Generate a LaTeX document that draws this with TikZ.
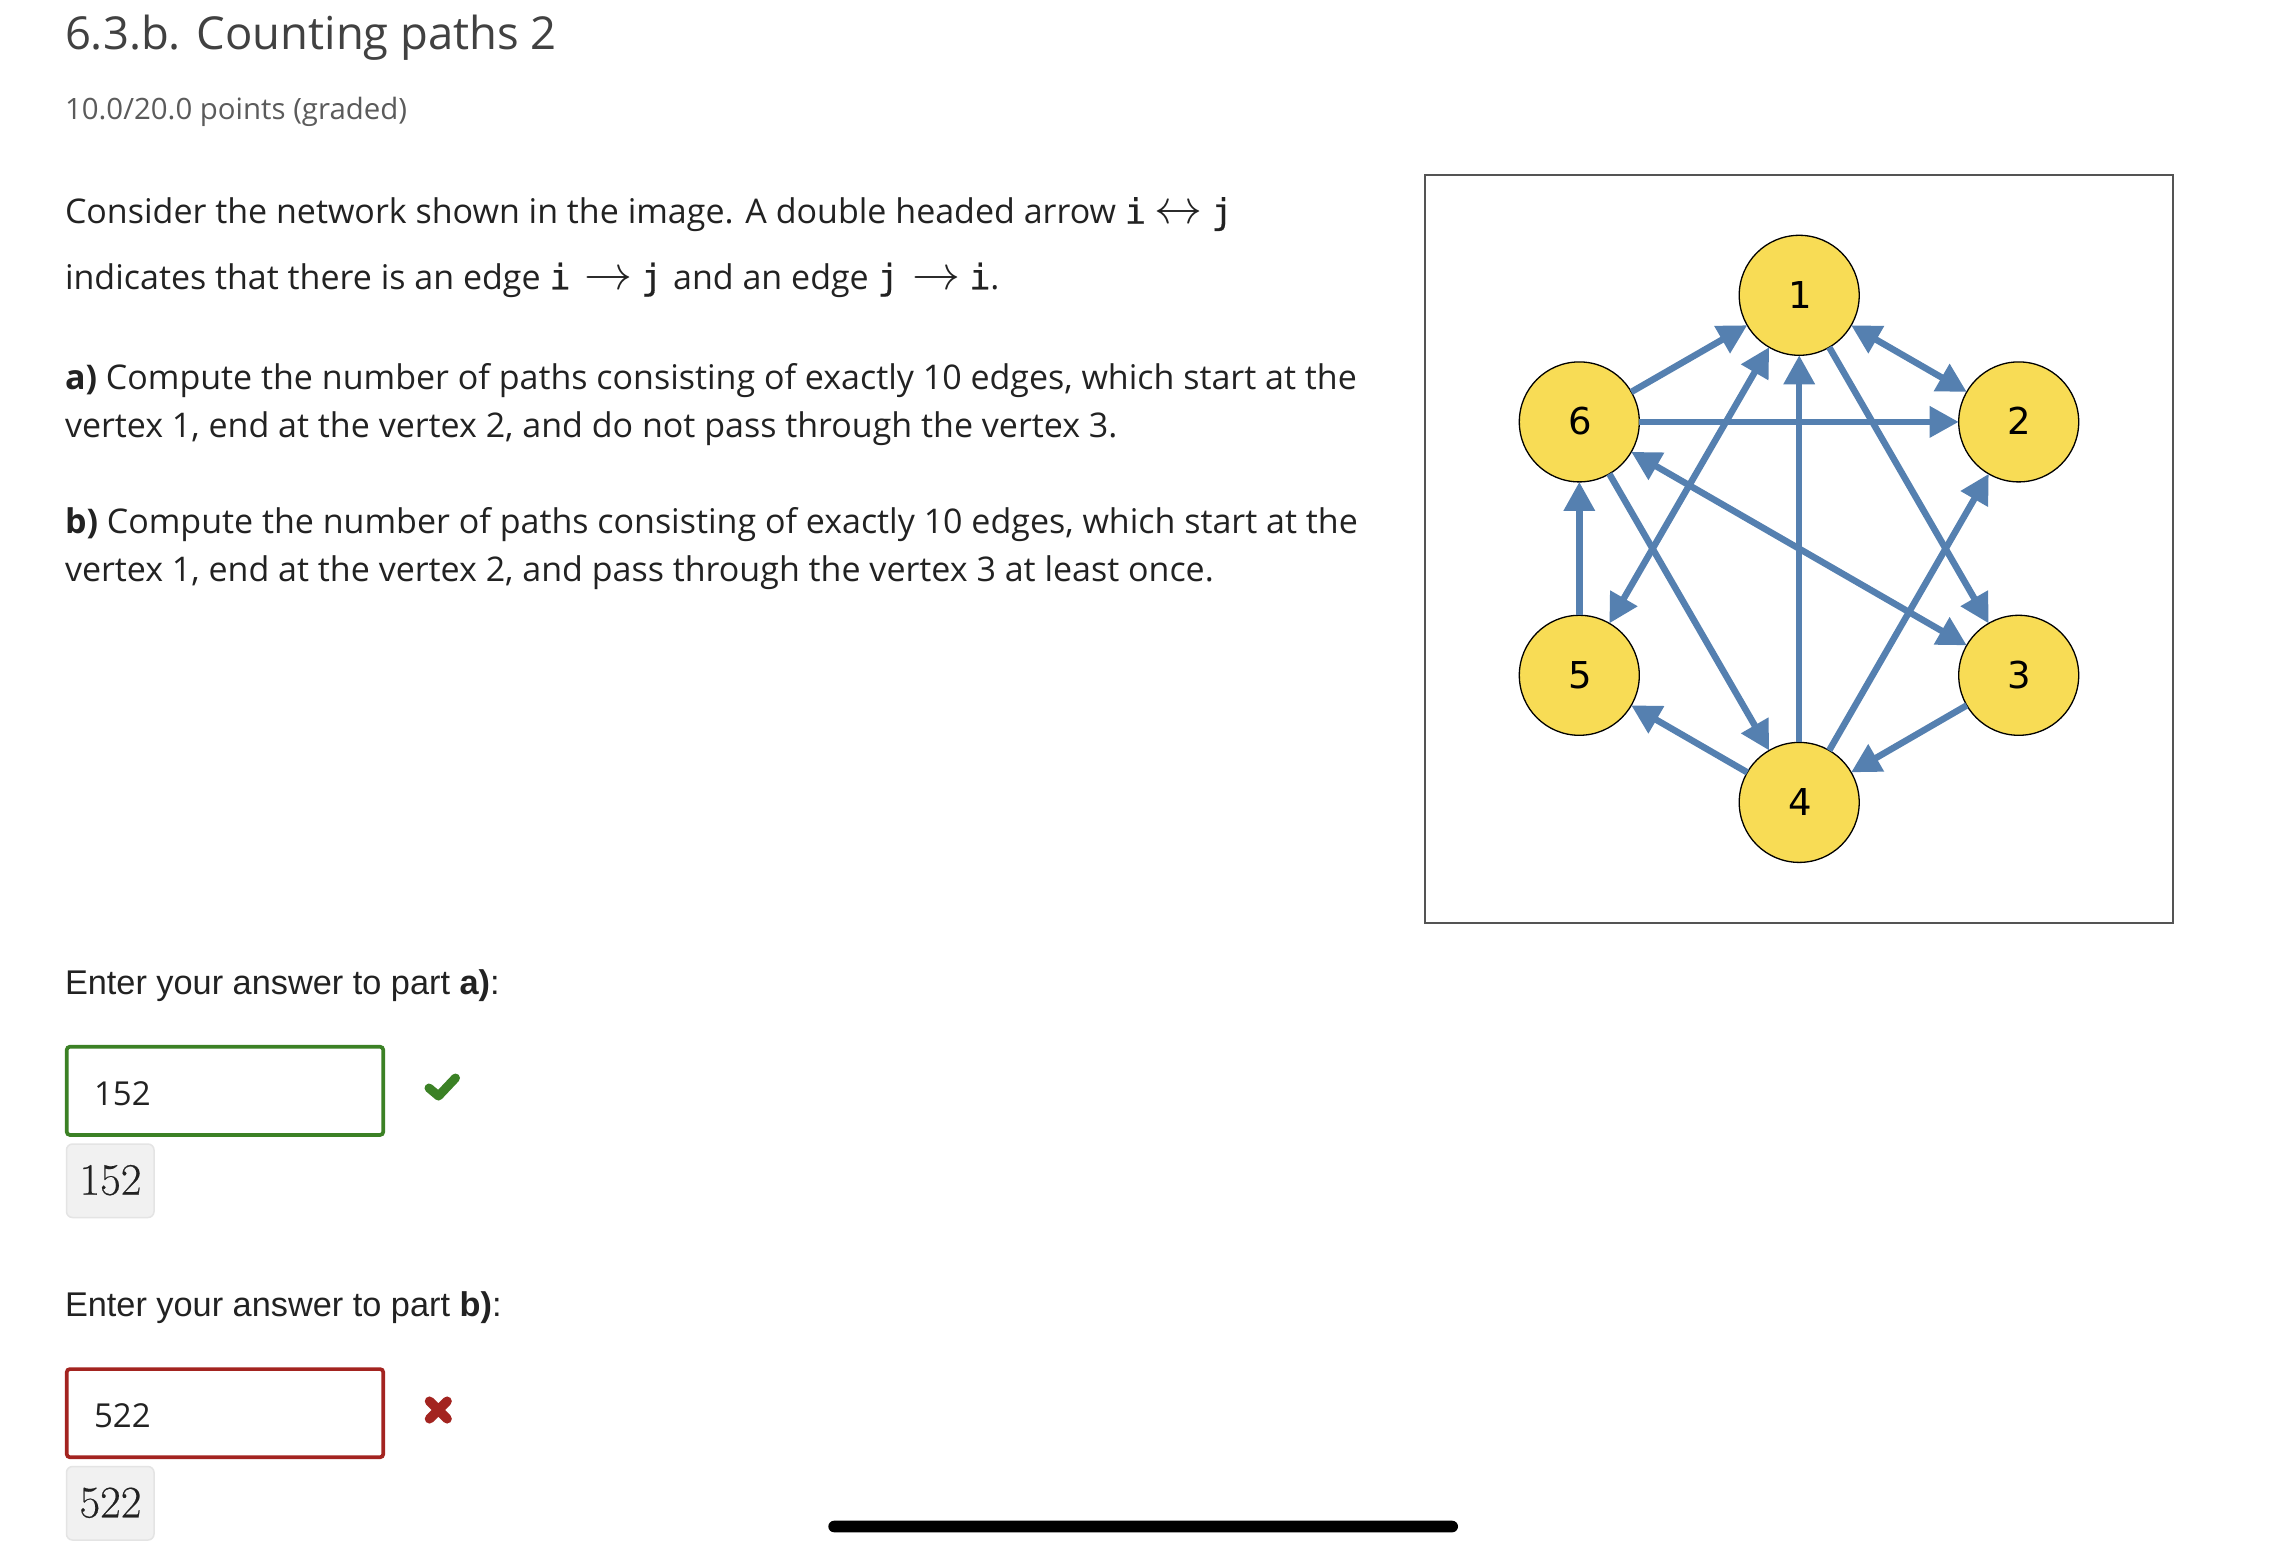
\RequirePackage{fix-cm}
\documentclass[tikz,border=0pt]{standalone}
\usepackage{fontspec}
\usetikzlibrary{arrows.meta}
\newfontfamily\os{Open Sans}
\newfontfamily\djv{DejaVu Sans}
\newfontfamily\mon[FakeBold=0.5]{DejaVu Sans Mono}
\newfontfamily\hel{Liberation Sans}
\newfontfamily\lmr[FakeBold=0.4]{Latin Modern Roman}
\definecolor{edgeblue}{HTML}{5580B0}
\definecolor{nodeyellow}{HTML}{F8DC55}
\definecolor{titlegrey}{HTML}{414141}
\definecolor{subgrey}{HTML}{5B5B5B}
\definecolor{bodyink}{HTML}{222222}
\definecolor{okgreen}{HTML}{3B8125}
\definecolor{badred}{HTML}{A32420}
\definecolor{chipfill}{HTML}{F1F1F1}
\definecolor{chipline}{HTML}{E4E4E4}
\newcommand{\tm}[1]{{\mon\fontsize{35}{35}\selectfont #1}}
\newcommand{\dbl}{{\fontsize{48}{48}\selectfont$\leftrightarrow$}}
\newcommand{\sgl}{\kern5pt{\fontsize{48}{48}\selectfont$\rightarrow$}}
\newcommand{\vlabel}[1]{\raisebox{1.5pt}{\kern2pt #1}}
\tikzset{
  vertex/.style={circle,draw=black,line width=1.3pt,fill=nodeyellow,minimum size=120pt,inner sep=0pt,outer sep=0pt,text=black,font=\djv\fontsize{37}{37}\selectfont},
  edge/.style={draw=edgeblue,line width=6.5pt,-{Triangle[length=29pt,width=30pt]}},
  dedge/.style={draw=edgeblue,line width=6.5pt,{Triangle[length=29pt,width=30pt]}-{Triangle[length=29pt,width=30pt]}},
  txt/.style={anchor=base west,inner sep=0pt,outer sep=0pt,text=bodyink,font=\os\fontsize{34}{34}\selectfont},
  form/.style={anchor=base west,inner sep=0pt,outer sep=0pt,text=bodyink,font=\hel\fontsize{34.3}{34.3}\selectfont},
  field/.style={anchor=base west,inner sep=0pt,outer sep=0pt,text=bodyink,font=\os\fontsize{33}{33}\selectfont},
  ansbox/.style={line width=3.7pt,rounded corners=3pt,fill=white},
  chip/.style={draw=chipline,fill=chipfill,line width=1.5pt,rounded corners=6pt},
  math chip/.style={anchor=base west,inner sep=0pt,outer sep=0pt,text=bodyink,font=\lmr\fontsize{45}{45}\selectfont},
}
\begin{document}
\begin{tikzpicture}[x=1pt,y=-1pt]
\useasboundingbox (0,0) rectangle (2285,1547);
\fill[white] (0,0) rectangle (2285,1547);
\node[txt,text=titlegrey,font=\os\fontsize{45.4}{45.4}\selectfont] (title) at (65,49.3) {6.3.b. Counting paths 2};
\node[txt,text=subgrey,font=\os\fontsize{29.4}{29.4}\selectfont] (pts) at (65,119.3) {10.0/20.0 points (graded)};
\node[txt] (l1) at (65,223.7) {Consider the network shown in the image. A double headed arrow \tm{i} \dbl{} \tm{j}};
\node[txt] (l2) at (65,289.3) {indicates that there is an edge \tm{i} \sgl{} \tm{j}\kern2pt{} and an edge \tm{j} \sgl{} \tm{i}.};
\node[txt] (a1) at (65,389.5) {\textbf{a)} Compute the number of paths consisting of exactly 10 edges, which start at the};
\node[txt] (a2) at (65,437.9) {vertex 1, end at the vertex 2, and do not pass through the vertex 3.};
\node[txt] (b1) at (65,533.9) {\textbf{b)} Compute the number of paths consisting of exactly 10 edges, which start at the};
\node[txt] (b2) at (65,581.9) {vertex 1, end at the vertex 2, and pass through the vertex 3 at least once.};
\node[form] (fa) at (65,994) {Enter your answer to part \textbf{a)}:};
\draw[ansbox,draw=okgreen] (66.8,1046.8) rectangle (383.2,1134.9);
\node[field] (va) at (94,1105.5) {152};
\draw[chip] (66.5,1144) rectangle (154,1217.5);
\node[math chip] (ca) at (79.5,1194.7) {152};
\draw[okgreen,line width=9pt,line join=round,line cap=round] (429,1088) -- (438.5,1096) -- (455.5,1078);
\node[form] (fb) at (65,1316) {Enter your answer to part \textbf{b)}:};
\draw[ansbox,draw=badred] (66.8,1369.1) rectangle (383.2,1457.2);
\node[field] (vb) at (94,1427.7) {522};
\draw[chip] (66.5,1466.5) rectangle (154,1540);
\node[math chip] (cb) at (79.5,1517.3) {522};
\draw[badred,line width=9.5pt,line cap=round] (429.5,1401.2) -- (447.1,1418.8) (447.1,1401.2) -- (429.5,1418.8);
\fill[black,rounded corners=5.8pt] (828.3,1520.7) rectangle (1458,1532.3);
\draw[line width=1.7pt,draw=black!67] (1425.3,175) rectangle (2172.7,922.7);
\node[vertex] (n1) at (1799.2,295.3) {\vlabel{1}};
\node[vertex] (n2) at (2018.7,421.9) {\vlabel{2}};
\node[vertex] (n3) at (2018.7,675.3) {\vlabel{3}};
\node[vertex] (n4) at (1799.2,802.4) {\vlabel{4}};
\node[vertex] (n5) at (1579.3,675.3) {\vlabel{5}};
\node[vertex] (n6) at (1579.3,421.9) {\vlabel{6}};
\draw[edge] (n6) -- (n1);
\draw[dedge] (n1) -- (n2);
\draw[edge] (n6) -- (n2);
\draw[edge] (n1) -- (n3);
\draw[dedge] (n6) -- (n3);
\draw[edge] (n4) -- (n1);
\draw[dedge] (n1) -- (n5);
\draw[edge] (n5) -- (n6);
\draw[edge] (n6) -- (n4);
\draw[edge] (n4) -- (n5);
\draw[edge] (n3) -- (n4);
\draw[edge] (n4) -- (n2);
\end{tikzpicture}
\end{document}
